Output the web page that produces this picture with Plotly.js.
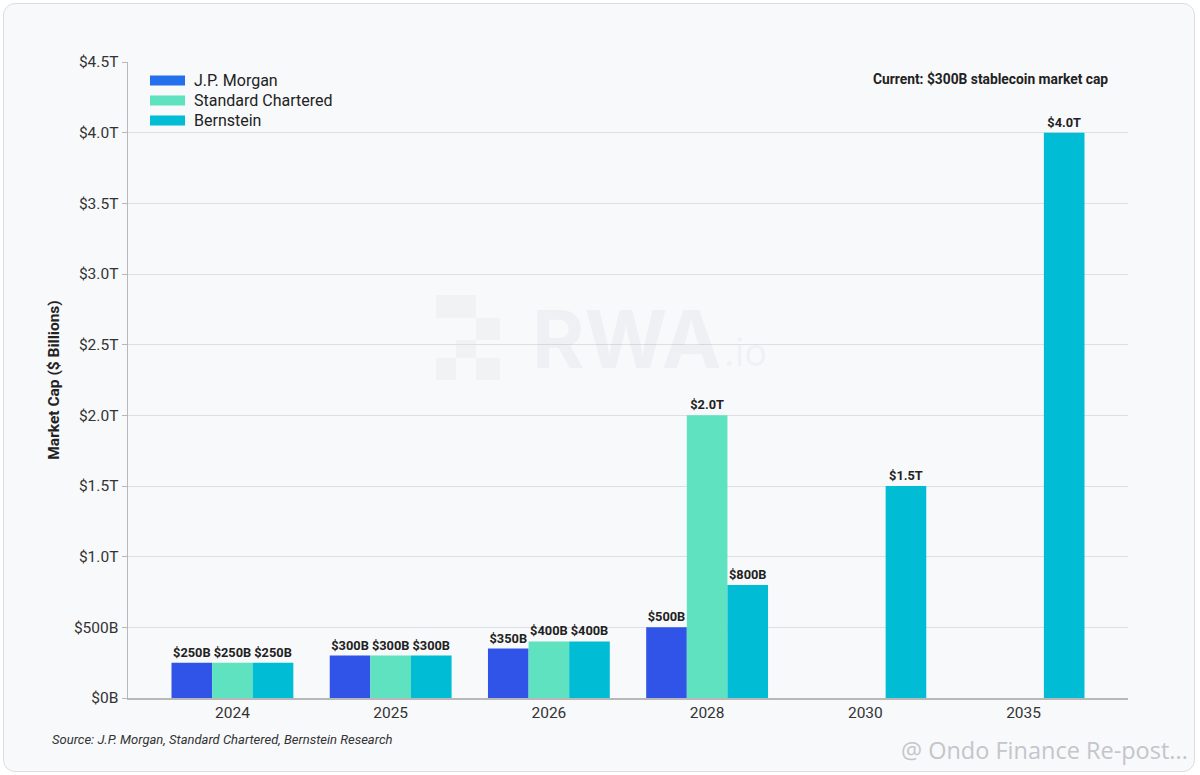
<!DOCTYPE html>
<html>
<head>
<meta charset="utf-8">
<script src="https://cdn.plot.ly/plotly-3.0.1.min.js"></script>
<style>
  html, body { margin: 0; padding: 0; background: #ffffff; }
  #card {
    position: absolute; left: 3px; top: 3px; width: 1190px; height: 767px;
    border: 1.5px solid #dcdde0; border-radius: 12px; background: #f8f9fb; overflow: hidden;
  }
  #chart { position: absolute; left: 0; top: 0; width: 1200px; height: 775px; }
</style>
</head>
<body>
<div id="card"></div>
<div id="chart"></div>
<script>
const categories = ["2024", "2025", "2026", "2028", "2030", "2035"];
const seriesNames = ["J.P. Morgan", "Standard Chartered", "Bernstein"];
const jpMorgan = [250, 300, 350, 500, null, null];
const standardChartered = [250, 300, 400, 2000, null, null];
const bernstein = [250, 300, 400, 800, 1500, 4000];
const yTickValues = [0, 500, 1000, 1500, 2000, 2500, 3000, 3500, 4000, 4500];
const yTickLabels = ["$0B", "$500B", "$1.0T", "$1.5T", "$2.0T", "$2.5T", "$3.0T", "$3.5T", "$4.0T", "$4.5T"];
const colors = ["#3053e8", "#5ee2c0", "#00bcd4"];
const legendColors = ["#2470ec", "#5ee2c0", "#00bcd4"];

function fmt(v) {
  if (v === null) return "";
  if (v >= 1000) return "$" + (v / 1000).toFixed(1) + "T";
  return "$" + v + "B";
}

const seriesValues = [jpMorgan, standardChartered, bernstein];
const traces = seriesValues.map((vals, i) => ({
  type: "bar",
  name: seriesNames[i],
  x: categories,
  y: vals,
  text: vals.map(fmt),
  textposition: "outside",
  textfont: { family: "Roboto", size: 12.8, color: "#222222", weight: "bold" },
  cliponaxis: false,
  marker: { color: colors[i], line: { width: 0 } },
  hoverinfo: "x+y+name"
}));

// Plot area geometry (for paper-based custom legend)
const L = 128, R = 72, T = 62, B = 77, W = 1200, H = 775;
const pw = W - L - R, ph = H - T - B;
const px = x => (x - L) / pw;
const py = y => 1 - (y - T) / ph;

const shapes = [];
const annotations = [];
seriesNames.forEach((name, i) => {
  const cy = 80.5 + i * 20;
  shapes.push({
    type: "rect", xref: "paper", yref: "paper",
    x0: px(150), x1: px(185), y0: py(cy - 5), y1: py(cy + 5),
    fillcolor: legendColors[i], line: { width: 0 }
  });
  annotations.push({
    xref: "paper", yref: "paper", x: px(192), y: py(cy), xanchor: "left", yanchor: "middle",
    text: name, showarrow: false,
    font: { family: "Roboto", size: 16, color: "#222222" }
  });
});

// faint watermark logo blocks
const wm = "rgba(120,130,140,0.06)";
[[436, 295, 476, 318], [476, 318, 500, 340], [456, 340, 476, 358], [436, 358, 456, 380], [476, 358, 500, 380]].forEach(r => {
  shapes.push({
    type: "rect", xref: "paper", yref: "paper", layer: "below",
    x0: px(r[0]), x1: px(r[2]), y0: py(r[3]), y1: py(r[1]),
    fillcolor: wm, line: { width: 0 }
  });
});

annotations.push({
  xref: "paper", yref: "paper", x: px(1110), y: py(79), xanchor: "right", yanchor: "middle",
  text: "<b>Current: $300B stablecoin market cap</b>", showarrow: false,
  font: { family: "Roboto", size: 13.8, color: "#222222" }
});
annotations.push({
  xref: "paper", yref: "paper", x: px(50), y: py(739), xanchor: "left", yanchor: "middle",
  text: "<i>Source: J.P. Morgan, Standard Chartered, Bernstein Research</i>", showarrow: false,
  font: { family: "Roboto", size: 13, color: "#333333" }
});
annotations.push({
  xref: "paper", yref: "paper", x: px(530), y: py(338), xanchor: "left", yanchor: "middle",
  text: "<b>RWA</b>", showarrow: false,
  font: { family: "Inter", size: 80, color: "rgba(120,130,140,0.07)" }
});
annotations.push({
  xref: "paper", yref: "paper", x: px(722), y: py(352), xanchor: "left", yanchor: "middle",
  text: ".io", showarrow: false,
  font: { family: "Inter", size: 38, color: "rgba(120,130,140,0.07)" }
});
annotations.push({
  xref: "paper", yref: "paper", x: px(1190), y: py(750), xanchor: "right", yanchor: "middle",
  text: "@ Ondo Finance Re-post...", showarrow: false,
  font: { family: "Open Sans", size: 23.5, color: "#c4c6c9" }
});

const layout = {
  width: W, height: H,
  margin: { l: L, r: R, t: T, b: B, pad: 0 },
  paper_bgcolor: "rgba(0,0,0,0)",
  plot_bgcolor: "rgba(0,0,0,0)",
  barmode: "group",
  bargap: 0.23,
  bargroupgap: 0,
  showlegend: false,
  font: { family: "Roboto", color: "#333333" },
  xaxis: {
    type: "category",
    range: [-0.66, 5.66],
    showline: true, linecolor: "#b8b8b8", linewidth: 1.5,
    showgrid: false, ticks: "",
    tickfont: { family: "Roboto", size: 15.5, color: "#333333" },
    fixedrange: true
  },
  yaxis: {
    range: [0, 4500],
    tickvals: yTickValues, ticktext: yTickLabels,
    showline: true, linecolor: "#b8b8b8", linewidth: 1.5,
    showgrid: true, gridcolor: "#dedfe1", gridwidth: 1,
    ticks: "outside", ticklen: 5, tickcolor: "#b8b8b8",
    tickfont: { family: "Roboto", size: 15.5, color: "#333333" },
    zeroline: false,
    title: { text: "<b>Market Cap ($ Billions)</b>", font: { family: "Roboto", size: 15.5, color: "#222222" }, standoff: 10 },
    fixedrange: true
  },
  shapes: shapes,
  annotations: annotations
};

Plotly.newPlot("chart", traces, layout, { displayModeBar: false, staticPlot: true });
</script>
</body>
</html>
